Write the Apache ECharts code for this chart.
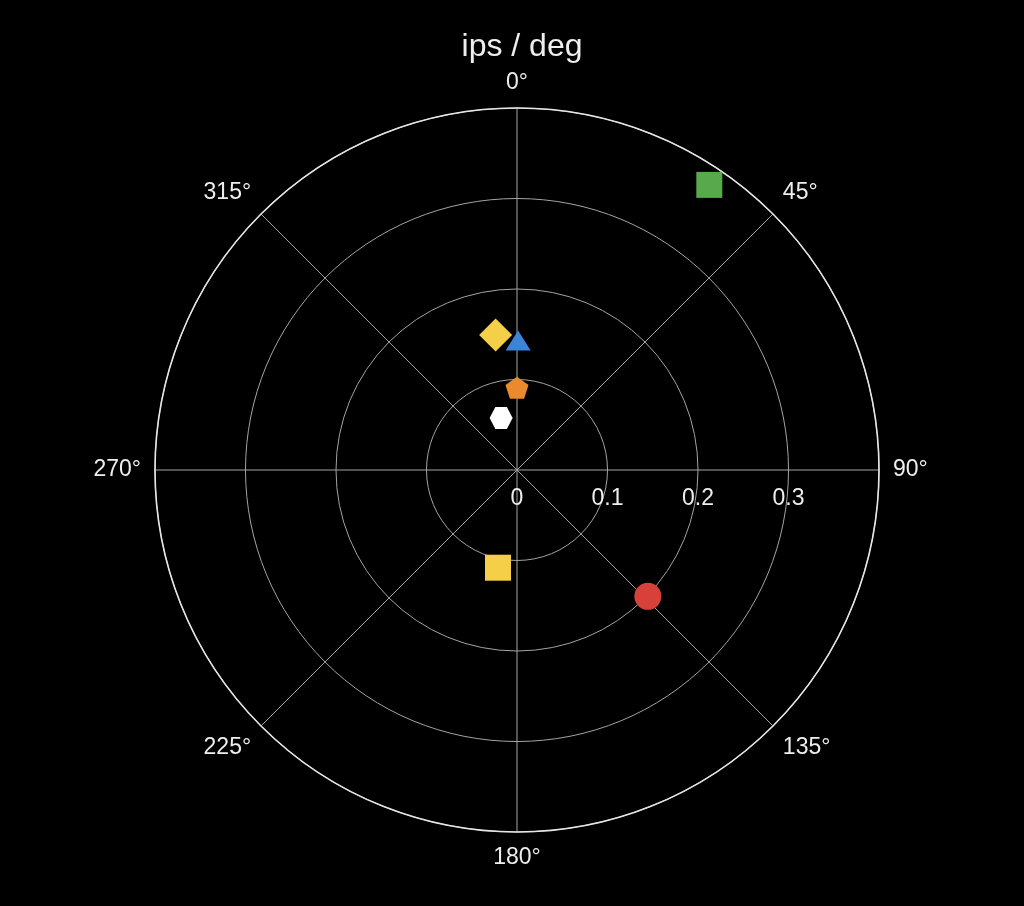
<!DOCTYPE html>
<html>
<head>
<meta charset="utf-8">
<title>ips / deg</title>
<script src="https://cdn.jsdelivr.net/npm/echarts@6/dist/echarts.min.js"></script>
<style>
  html, body { margin: 0; padding: 0; background: #000; }
  #chart { width: 1024px; height: 906px; }
</style>
</head>
<body>
<div id="chart"></div>
<script>
// values: radius (ips) and angle (deg, clockwise from top)
const pointRadius = [0.380, 0.151, 0.143, 0.091, 0.060, 0.110, 0.201];
const pointAngle = [34, 351, 0.5, 0, 343, 191, 134];
const pointColor = ["#58a84c", "#f5cf48", "#3b84d8", "#e98a2e", "#ffffff", "#f5cf48", "#d8403a"];
const pointSymbol = [
  "rect",
  "diamond",
  "triangle",
  "path://M50 0 L97.5 34.5 L79.4 90.5 L20.6 90.5 L2.5 34.5 Z",
  "path://M25 0 L75 0 L100 43.3 L75 86.6 L25 86.6 L0 43.3 Z",
  "rect",
  "circle"
];
const pointSize = [[26, 26], [33, 33], [25, 20], [23, 22], [23, 22], [26, 26], [27, 27]];

const radiusTicks = [0, 0.1, 0.2, 0.3, 0.4];
const angleTicks = [0, 45, 90, 135, 180, 225, 270, 315];

const font = "Liberation Sans, Arial, sans-serif";

// the radius axis is laid along the start angle, so start at the right (90°)
// and shift angles so 0° lands at the top
function toAxisAngle(a) {
  return a < 90 ? a + 360 : a;
}

const chart = echarts.init(document.getElementById("chart"));

chart.setOption({
  backgroundColor: "#000",
  animation: false,
  title: {
    text: "ips / deg",
    left: 517,
    textAlign: "center",
    top: 26,
    textStyle: { color: "#eeeeee", fontSize: 32, fontWeight: "normal", fontFamily: font }
  },
  polar: {
    center: [517, 470],
    radius: 362
  },
  angleAxis: {
    type: "value",
    min: 90,
    max: 450,
    interval: 45,
    startAngle: 0,
    clockwise: true,
    axisLine: { show: true, lineStyle: { color: "#e6e6e6", width: 1.6 } },
    axisTick: { show: false },
    splitLine: { show: true, lineStyle: { color: "#a4a4a4", width: 1 } },
    axisLabel: {
      margin: 14,
      color: "#eeeeee",
      fontSize: 23,
      fontFamily: font,
      formatter: (v) => {
        const d = ((v % 360) + 360) % 360;
        return angleTicks.includes(d) ? d + "°" : "";
      }
    }
  },
  radiusAxis: {
    type: "value",
    min: radiusTicks[0],
    max: radiusTicks[radiusTicks.length - 1],
    interval: 0.1,
    axisLine: { show: false },
    axisTick: { show: false },
    splitLine: { show: true, lineStyle: { color: "#a4a4a4", width: 1 } },
    axisLabel: {
      margin: -40,
      color: "#eeeeee",
      fontSize: 23,
      fontFamily: font,
      formatter: (v) => (v >= 0.399 ? "" : String(Math.round(v * 10) / 10))
    }
  },
  series: pointRadius.map((r, i) => ({
    type: "scatter",
    coordinateSystem: "polar",
    symbol: pointSymbol[i],
    symbolSize: pointSize[i],
    itemStyle: { color: pointColor[i], opacity: 1 },
    z: 2 + i,
    data: [[r, toAxisAngle(pointAngle[i])]]
  }))
});
</script>
</body>
</html>
